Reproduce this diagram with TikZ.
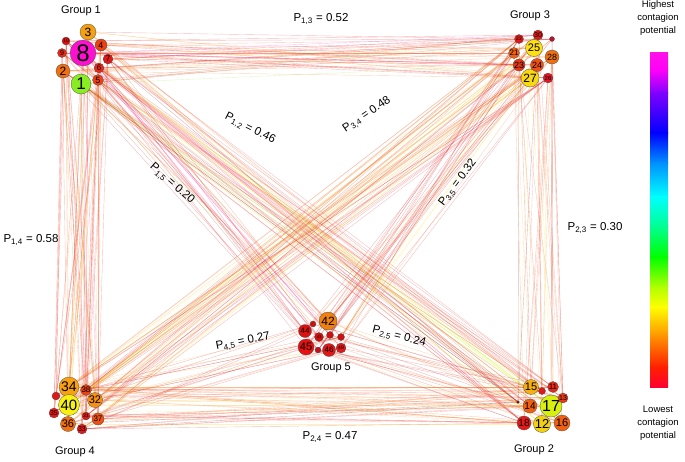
\documentclass[tikz,border=0pt]{standalone}
\usepackage{fontspec}
\setmainfont{Liberation Sans}
\usetikzlibrary{backgrounds}
% group 1
\definecolor{c1}{HTML}{88EE22}\definecolor{c2}{HTML}{F07010}\definecolor{c3}{HTML}{F5A010}
\definecolor{c4}{HTML}{EE4010}\definecolor{c5}{HTML}{EE4010}\definecolor{c6}{HTML}{E82818}
\definecolor{c7}{HTML}{E01818}\definecolor{c8}{HTML}{FF10D0}\definecolor{c9}{HTML}{E82818}
\definecolor{c10}{HTML}{E01010}
% group 2
\definecolor{c11}{HTML}{E82818}\definecolor{c12}{HTML}{F0D010}\definecolor{c13}{HTML}{E83818}
\definecolor{c14}{HTML}{F06010}\definecolor{c15}{HTML}{F8B010}\definecolor{c16}{HTML}{F06010}
\definecolor{c17}{HTML}{D8F010}\definecolor{c18}{HTML}{E81818}\definecolor{c19}{HTML}{E01818}
\definecolor{c20}{HTML}{800000}
% group 3
\definecolor{c21}{HTML}{EE6010}\definecolor{c22}{HTML}{E01818}\definecolor{c23}{HTML}{E83818}
\definecolor{c24}{HTML}{F05010}\definecolor{c25}{HTML}{FFE010}\definecolor{c26}{HTML}{E01828}
\definecolor{c27}{HTML}{F8D810}\definecolor{c28}{HTML}{F07010}\definecolor{c29}{HTML}{C01030}
\definecolor{c30}{HTML}{E01818}
% group 4
\definecolor{c31}{HTML}{E01818}\definecolor{c32}{HTML}{F89010}\definecolor{c33}{HTML}{E81818}
\definecolor{c34}{HTML}{F8A010}\definecolor{c35}{HTML}{E81818}\definecolor{c36}{HTML}{F07010}
\definecolor{c37}{HTML}{F05010}\definecolor{c38}{HTML}{EE4010}\definecolor{c39}{HTML}{E01818}
\definecolor{c40}{HTML}{F8F010}
% group 5
\definecolor{c41}{HTML}{D01010}\definecolor{c42}{HTML}{F08010}\definecolor{c43}{HTML}{D01010}
\definecolor{c44}{HTML}{E01010}\definecolor{c45}{HTML}{E81010}\definecolor{c46}{HTML}{E01818}
\definecolor{c47}{HTML}{D01010}\definecolor{c48}{HTML}{D01010}\definecolor{c49}{HTML}{E01818}
\definecolor{c50}{HTML}{C01020}
\newcommand\mknode[7]{\node[nd,fill=#5,minimum size=#4pt,font=\fontsize{#6}{#6}\selectfont] (n#1) at (#2,#3) {#7};}
\begin{document}
\begin{tikzpicture}[x=1pt,y=-1pt,
  nd/.style={circle,draw=black!70,line width=0.3pt,inner sep=0pt,text=black},
  edge/.style={line width=0.4pt,opacity=0.28},
  lbl/.style={font=\fontsize{11.5}{13}\selectfont,inner sep=1pt},
  grp/.style={font=\fontsize{11}{12}\selectfont},
  cbt/.style={font=\fontsize{9.5}{13}\selectfont,align=center}]
\useasboundingbox (0,0) rectangle (685,461);
% ---- Group 1
\mknode{8}{83}{53}{26}{c8}{24}{8}
\mknode{3}{88}{32}{16}{c3}{12}{3}
\mknode{1}{81}{84}{20}{c1}{17}{1}
\mknode{2}{63}{71}{14}{c2}{12}{2}
\mknode{4}{101}{45}{12}{c4}{9}{4}
\mknode{5}{98}{80}{11}{c5}{9}{5}
\mknode{6}{99}{68}{10}{c6}{8}{6}
\mknode{7}{108}{59}{10}{c7}{8}{7}
\mknode{9}{62}{53}{9}{c9}{7}{9}
\mknode{10}{66}{41}{8}{c10}{5}{10}
% ---- Group 3
\mknode{25}{534}{48}{17}{c25}{11}{25}
\mknode{27}{530}{78}{18}{c27}{12}{27}
\mknode{21}{514}{53}{11}{c21}{8}{21}
\mknode{23}{519}{65}{12}{c23}{9}{23}
\mknode{24}{537}{65}{13}{c24}{9}{24}
\mknode{28}{552}{57}{14}{c28}{9}{28}
\mknode{30}{538}{35}{10}{c30}{7}{30}
\mknode{22}{519}{39}{9}{c22}{5}{22}
\mknode{29}{552}{39}{5}{c29}{3}{}
\mknode{26}{548}{78}{10}{c26}{6}{26}
% ---- Group 4
\mknode{34}{69}{387}{20}{c34}{14}{34}
\mknode{40}{69}{405}{21}{c40}{15}{40}
\mknode{36}{68}{424}{15}{c36}{11}{36}
\mknode{32}{95}{400}{15}{c32}{11}{32}
\mknode{38}{86}{390}{11}{c38}{8}{38}
\mknode{37}{98}{419}{12}{c37}{8}{37}
\mknode{35}{54}{413}{10}{c35}{7}{35}
\mknode{39}{56}{396}{8}{c39}{5}{}
\mknode{31}{86}{416}{8}{c31}{5}{31}
\mknode{33}{82}{429}{10}{c33}{7}{33}
% ---- Group 2
\mknode{17}{551}{406}{22}{c17}{16}{17}
\mknode{12}{542}{424}{17}{c12}{13}{12}
\mknode{16}{562}{423}{16}{c16}{11}{16}
\mknode{15}{531}{387}{15}{c15}{11}{15}
\mknode{14}{530}{406}{14}{c14}{10}{14}
\mknode{18}{524}{423}{14}{c18}{10}{18}
\mknode{11}{553}{387}{11}{c11}{8}{11}
\mknode{13}{563}{398}{10}{c13}{7}{13}
\mknode{19}{542}{391}{7}{c19}{4}{}
\mknode{20}{518}{402}{3}{c20}{2}{}
% ---- Group 5
\mknode{42}{328}{321}{18}{c42}{12}{42}
\mknode{41}{313}{324}{6}{c41}{3}{}
\mknode{44}{305}{331}{13}{c44}{8}{44}
\mknode{43}{319}{337}{9}{c43}{4}{43}
\mknode{47}{330}{335}{7}{c47}{3}{}
\mknode{48}{341}{337}{7}{c48}{3}{}
\mknode{45}{306}{347}{16}{c45}{11}{45}
\mknode{50}{318}{350}{6}{c50}{3}{}
\mknode{46}{329}{350}{13}{c46}{8}{46}
\mknode{49}{341}{348}{10}{c49}{5}{49}
% ---- edges
\begin{scope}[on background layer]
\pgfmathsetseed{7}
\foreach \ga/\gb/\p in {0/2/0.52,0/1/0.46,0/4/0.20,2/3/0.48,2/4/0.32,1/2/0.30,0/3/0.58,3/4/0.27,1/4/0.24,1/3/0.47}{
  \foreach \i in {1,...,10}{
    \foreach \j in {1,...,10}{
      \pgfmathtruncatemacro\ea{10*\ga+\i}
      \pgfmathtruncatemacro\eb{10*\gb+\j}
      \pgfmathtruncatemacro\keep{rnd<\p ? 1 : 0}
      \ifnum\keep=1
        \pgfmathtruncatemacro\pick{rnd<0.5 ? \ea : \eb}
        \draw[edge,draw=c\pick] (n\ea.center) -- (n\eb.center);
      \fi
    }
  }
}
\end{scope}
% ---- group labels
\node[grp] (g1) at (81,11) {Group 1};
\node[grp] (g3) at (530,16) {Group 3};
\node[grp] (g4) at (75,452) {Group 4};
\node[grp] (g2) at (534,450) {Group 2};
\node[grp] (g5) at (331,368) {Group 5};
% ---- probability labels
\node[lbl] (p13) at (321,19) {P\textsubscript{1,3} = 0.52};
\node[lbl,rotate=-27] (p12) at (250,129) {P\textsubscript{1,2} = 0.46};
\node[lbl,rotate=-41] (p15) at (172,184) {P\textsubscript{1,5} = 0.20};
\node[lbl,rotate=34] (p34) at (367,115) {P\textsubscript{3,4} = 0.48};
\node[lbl,rotate=53] (p35) at (458,183) {P\textsubscript{3,5} = 0.32};
\node[lbl] (p23) at (595,228) {P\textsubscript{2,3} = 0.30};
\node[lbl] (p14) at (31,240) {P\textsubscript{1,4} = 0.58};
\node[lbl,rotate=11] (p45) at (243,342) {P\textsubscript{4,5} = 0.27};
\node[lbl,rotate=-14] (p25) at (399,337) {P\textsubscript{2,5} = 0.24};
\node[lbl] (p24) at (330,437) {P\textsubscript{2,4} = 0.47};
% ---- colour bar
\foreach \ya/\yb/\ca/\cb in {
  53/70/FF10E8/FF00F8, 70/93/FF00F8/8000FF, 93/133/8000FF/0000FF,
  133/163/0000FF/0090FF, 163/197/0090FF/00FFFF, 197/227/00FFFF/00FF90,
  227/257/00FF90/00FF00, 257/287/00FF00/B0FF00, 287/307/B0FF00/FFFF00,
  307/337/FFFF00/FF9000, 337/367/FF9000/FF2000, 367/387/FF2000/FF0030}{
  \definecolor{cbtop}{HTML}{\ca}\definecolor{cbbot}{HTML}{\cb}
  \shade[top color=cbtop,bottom color=cbbot] (650,\ya-0.3) rectangle (668,\yb+0.3);
}
\node[cbt] (hi) at (658,18) {Highest\\contagion\\potential};
\node[cbt] (lo) at (658,423) {Lowest\\contagion\\potential};
\end{tikzpicture}
\end{document}
